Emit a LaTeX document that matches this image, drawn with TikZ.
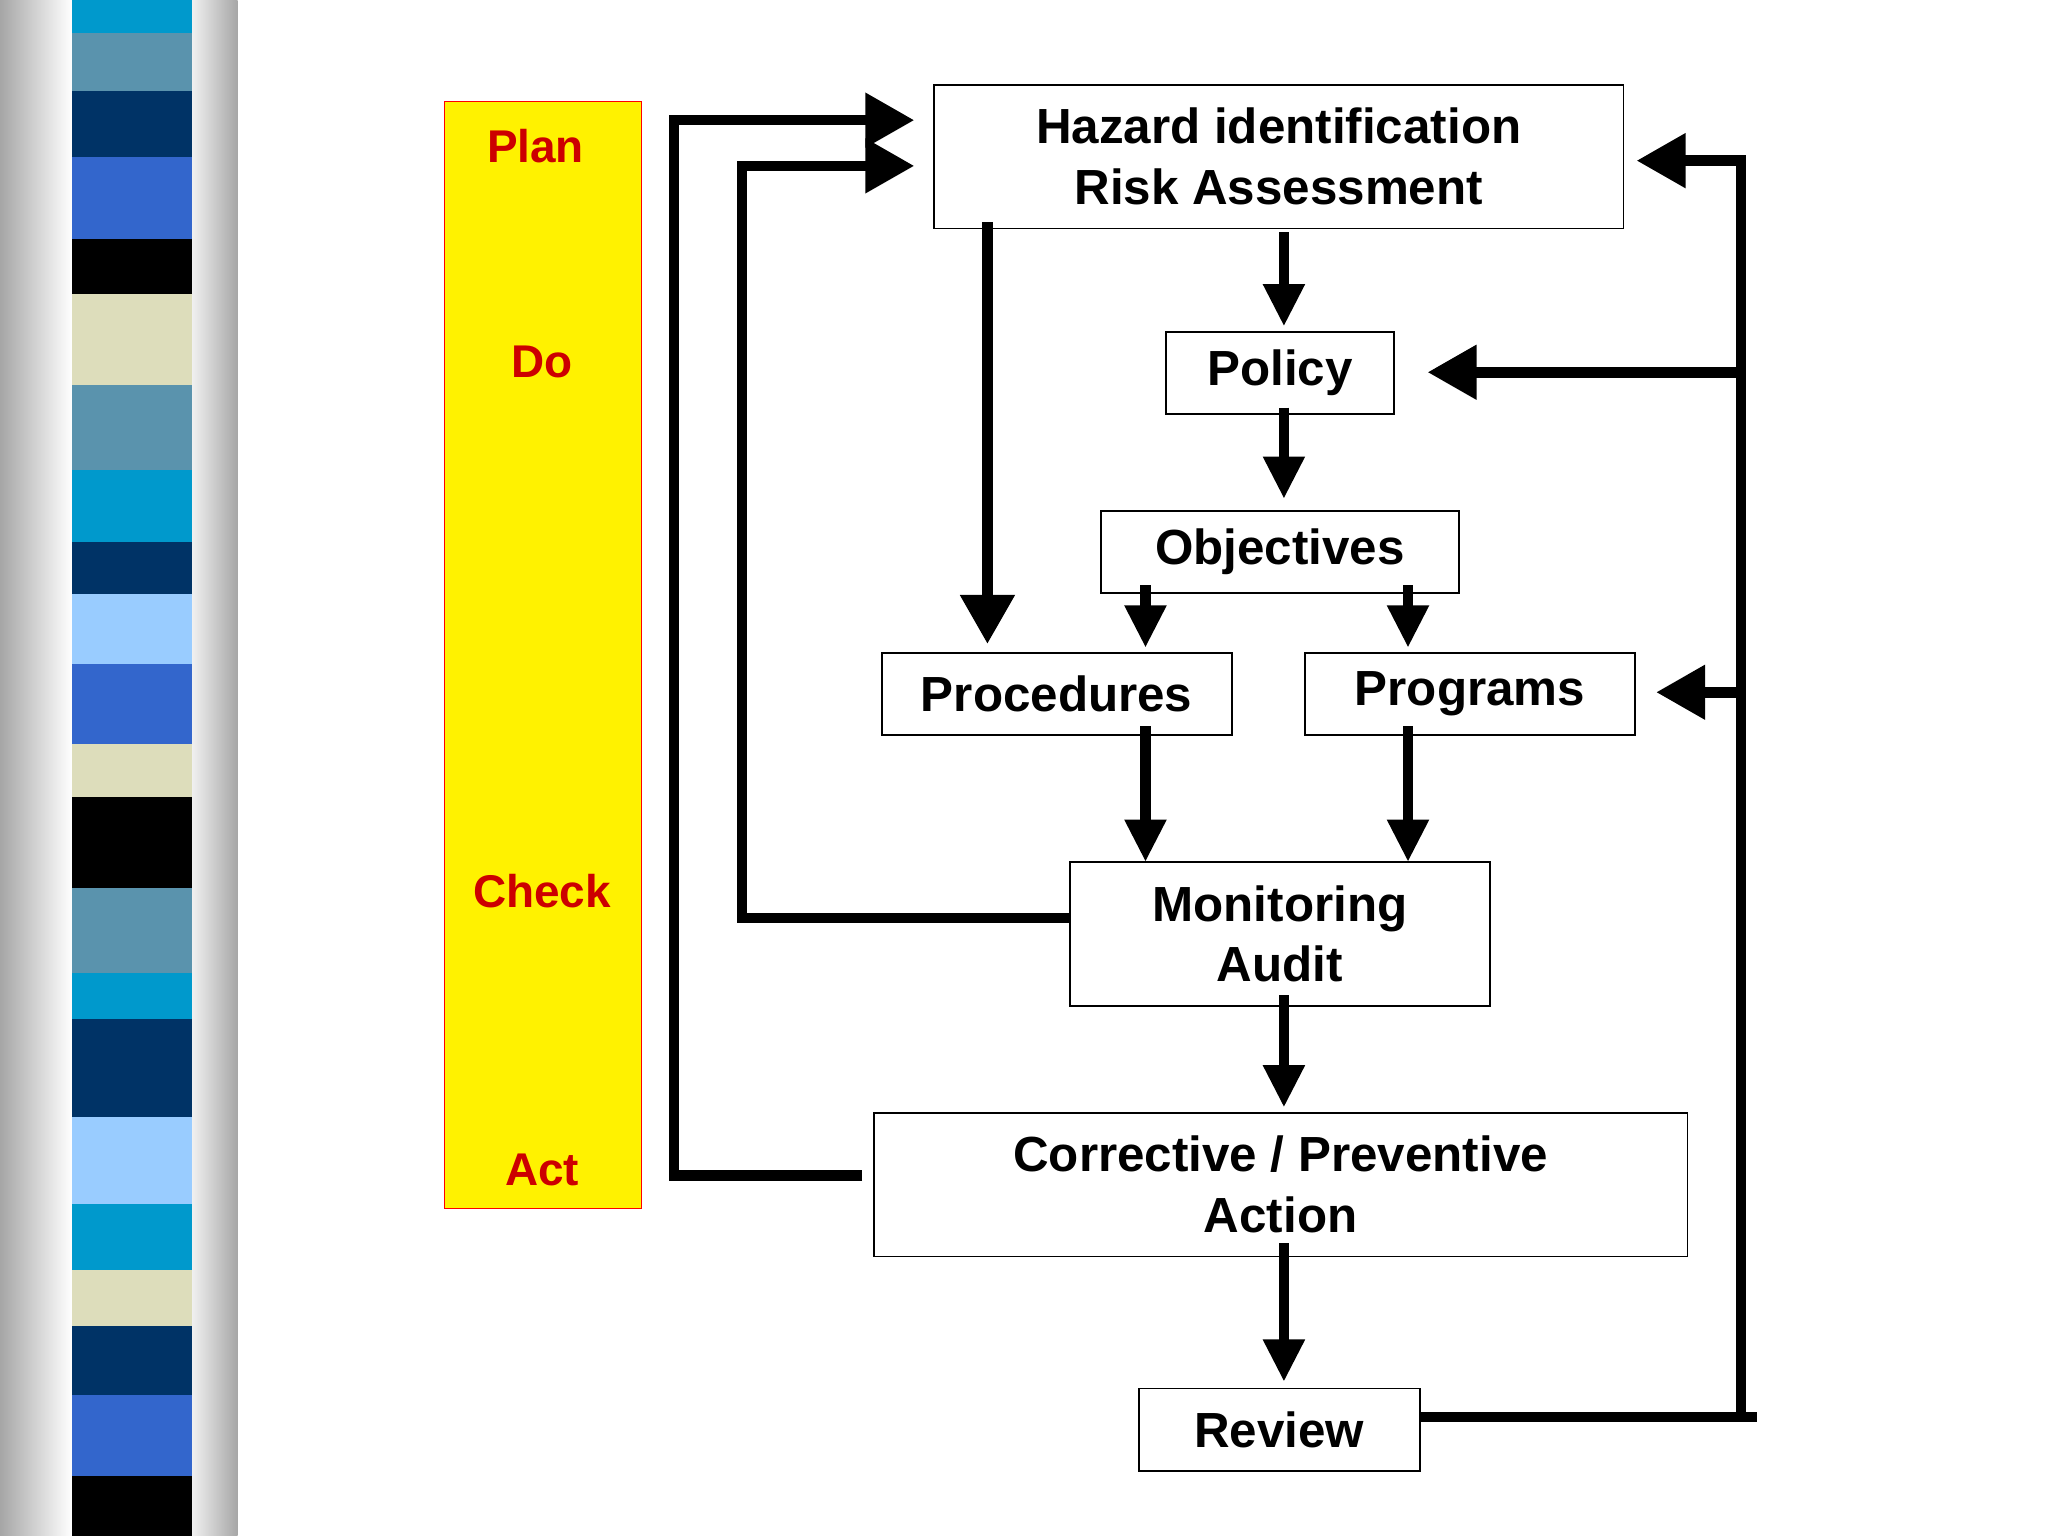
\documentclass[tikz,border=0pt]{standalone}
\usepackage{fontspec}
\setmainfont{Liberation Sans}
\usetikzlibrary{arrows.meta}
\definecolor{cyanb}{HTML}{0099CC}\definecolor{steel}{HTML}{5A93AD}\definecolor{navy}{HTML}{003366}
\definecolor{blueb}{HTML}{3366CC}\definecolor{beige}{HTML}{DDDDBB}\definecolor{lblue}{HTML}{99CCFF}
\definecolor{dred}{HTML}{CC0000}
\begin{document}
\begin{tikzpicture}[x=0.02cm,y=-0.02cm,
 box/.style={draw,thick,fill=white,inner sep=0,font=\fontsize{21.5}{26.5}\selectfont\bfseries,align=center},
 lab/.style={text=dred,font=\fontsize{20}{22}\selectfont\bfseries},
 con/.style={line width=4.6pt},
 arr/.style={con,-{Triangle[length=0.75cm,width=0.8cm]}},
 sarr/.style={con,-{Triangle[length=0.65cm,width=0.6cm]}}]
\useasboundingbox (0,0) rectangle (1568,1176);
\shade[left color=gray!70,right color=white] (0,0) rectangle (55,1176);
\shade[left color=white,right color=gray!70] (140,0) rectangle (182,1176);
\foreach \a/\b/\c in {0/25/cyanb,25/70/steel,70/120/navy,120/183/blueb,183/225/black,225/295/beige,295/360/steel,360/415/cyanb,415/455/navy,455/508/lblue,508/570/blueb,570/610/beige,610/680/black,680/745/steel,745/780/cyanb,780/855/navy,855/922/lblue,922/972/cyanb,972/1015/beige,1015/1068/navy,1068/1130/blueb,1130/1176/black}
 \fill[\c] (55,\a) rectangle (147,\b);
\node[draw=red,fill=yellow,minimum width=151*0.02cm,minimum height=847*0.02cm,inner sep=0] (pdca) at (415.5,501.5) {};
\node[lab] (plan) at (410,112) {Plan};
\node[lab] (do) at (415,277) {Do};
\node[lab] (check) at (415,682) {Check};
\node[lab] (act) at (415,896) {Act};
\node[box,minimum width=528*0.02cm,minimum height=110*0.02cm] (haz) at (979,120) {Hazard identification\\Risk Assessment};
\node[box,minimum width=174*0.02cm,minimum height=63*0.02cm] (pol) at (980,285.5) {Policy};
\node[box,minimum width=274*0.02cm,minimum height=63*0.02cm] (obj) at (980,422.5) {Objectives};
\node[box,minimum width=268*0.02cm,minimum height=63*0.02cm] (proc) at (809,531.5) {Procedures};
\node[box,minimum width=253*0.02cm,minimum height=63*0.02cm] (prog) at (1125.5,531.5) {Programs};
\node[box,minimum width=322*0.02cm,minimum height=110*0.02cm] (mon) at (980,715) {Monitoring\\Audit};
\node[box,minimum width=623*0.02cm,minimum height=110*0.02cm] (cor) at (980.5,907) {Corrective / Preventive\\Action};
\node[box,minimum width=215*0.02cm,minimum height=63*0.02cm] (rev) at (979.5,1094.5) {Review};
\draw[sarr] (983,178) -- (983,250);
\draw[sarr] (983,312) -- (983,382);
\draw[sarr] (877,448) -- (877,496);
\draw[sarr] (1078,448) -- (1078,496);
\draw[arr] (756,170) -- (756,493);
\draw[sarr] (877,556) -- (877,660);
\draw[sarr] (1078,556) -- (1078,660);
\draw[sarr] (983,762) -- (983,848);
\draw[sarr] (983,952) -- (983,1058);
\coordinate (m1) at (568,703); \coordinate (m2) at (568,127); \coordinate (m3) at (700,127);
\draw[arr] (mon.west|-m1) -- (m1) -- (m2) -- (m3);
\coordinate (c1) at (516,900); \coordinate (c2) at (516,92); \coordinate (c3) at (700,92);
\draw[arr] (660,900) -- (c1) -- (c2) -- (c3);
\coordinate (r1) at (1345,1085); \coordinate (r2) at (1333,1085); \coordinate (r3) at (1333,123); \coordinate (r4) at (1253,123);
\draw[con] (rev.east|-r1) -- (r1);
\draw[arr] (r2) -- (r3) -- (r4);
\draw[arr] (1333,285) -- (1093,285);
\draw[arr] (1333,530) -- (1268,530);
\end{tikzpicture}
\end{document}
